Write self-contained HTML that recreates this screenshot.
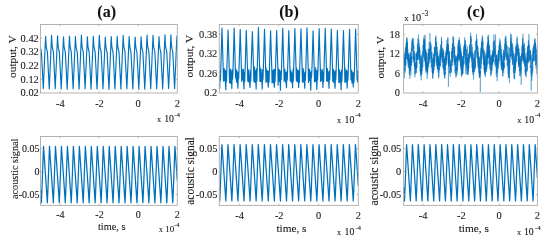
<!DOCTYPE html>
<html><head><meta charset="utf-8"><style>
html,body{margin:0;padding:0;background:#fff;}
body{width:550px;height:247px;overflow:hidden;}
svg{display:block;}
text{font-family:'Liberation Serif', 'Times New Roman', serif;fill:#1a1a1a;stroke:#1a1a1a;stroke-width:0.1px;}
.tl{font-size:10.4px;}
.ttl{font-size:16px;font-weight:bold;fill:#111;}
</style></head><body>
<svg xmlns="http://www.w3.org/2000/svg" width="550" height="247" viewBox="0 0 550 247">
<rect width="550" height="247" fill="#fff"/>
<defs><clipPath id="c0"><rect x="40.5" y="24.5" width="136.80" height="68.50"/></clipPath><clipPath id="c1"><rect x="219.3" y="24.5" width="139.00" height="68.50"/></clipPath><clipPath id="c2"><rect x="403.6" y="24.5" width="133.80" height="68.50"/></clipPath><clipPath id="c3"><rect x="40.5" y="136.5" width="136.80" height="68.90"/></clipPath><clipPath id="c4"><rect x="219.3" y="136.5" width="139.00" height="68.90"/></clipPath><clipPath id="c5"><rect x="403.6" y="136.5" width="133.80" height="68.90"/></clipPath></defs>
<g clip-path="url(#c0)"><polyline points="40.50,47.66 40.59,48.29 41.42,51.71 43.30,88.70 45.60,36.27 46.08,45.13 46.56,48.55 47.39,51.98 49.27,88.97 51.57,35.24 52.05,44.82 52.52,48.25 53.36,51.67 55.24,88.66 57.54,35.92 58.01,45.02 58.49,48.45 59.33,51.87 61.21,88.86 63.51,36.85 63.98,45.30 64.46,48.73 65.30,52.15 67.18,89.14 69.47,36.00 69.95,45.05 70.43,48.47 71.26,51.90 73.14,88.89 75.44,36.59 75.92,45.23 76.40,48.65 77.23,52.08 79.11,89.07 81.41,35.05 81.89,44.76 82.37,48.19 83.20,51.61 85.08,88.60 87.38,36.89 87.86,45.32 88.33,48.74 89.17,52.17 91.05,89.16 93.35,36.35 93.83,45.15 94.30,48.58 95.14,52.00 97.02,88.99 99.32,35.41 99.79,44.87 100.27,48.30 101.11,51.72 102.99,88.71 105.28,37.40 105.76,45.47 106.24,48.89 107.08,52.32 108.96,89.31 111.25,36.55 111.73,45.21 112.21,48.64 113.04,52.06 114.92,89.05 117.22,36.34 117.70,45.15 118.18,48.58 119.01,52.00 120.89,88.99 123.19,35.44 123.67,44.88 124.14,48.30 124.98,51.73 126.86,88.72 129.16,36.50 129.64,45.20 130.11,48.62 130.95,52.05 132.83,89.04 135.13,37.12 135.60,45.38 136.08,48.81 136.92,52.23 138.80,89.22 141.09,36.88 141.57,45.31 142.05,48.74 142.89,52.16 144.77,89.15 147.06,35.11 147.54,44.78 148.02,48.21 148.85,51.63 150.73,88.62 153.03,35.31 153.51,44.84 153.99,48.27 154.82,51.69 156.70,88.68 159.00,36.68 159.48,45.25 159.96,48.68 160.79,52.10 162.67,89.09 164.97,34.88 165.45,44.71 165.92,48.14 166.76,51.56 168.64,88.55 170.94,34.91 171.41,44.72 171.89,48.14 172.73,51.57 174.61,88.56 176.91,36.01 177.30,43.48" fill="none" stroke="#0072BD" stroke-width="1.15" stroke-linejoin="round" stroke-opacity="1.0"/></g>
<rect x="40.5" y="24.5" width="136.80" height="68.50" fill="none" stroke="#acacac" stroke-width="0.9"/>
<path d="M60.04,93.0v-1.6M60.04,24.5v1.6M99.13,93.0v-1.6M99.13,24.5v1.6M138.21,93.0v-1.6M138.21,24.5v1.6M40.5,79.30h1.6M177.3,79.30h-1.6M40.5,65.60h1.6M177.3,65.60h-1.6M40.5,51.90h1.6M177.3,51.90h-1.6M40.5,38.20h1.6M177.3,38.20h-1.6" stroke="#acacac" stroke-width="0.9" fill="none"/>
<text x="38.80" y="96.43" text-anchor="end" style="font-size:10.4px">0.02</text>
<text x="38.80" y="82.73" text-anchor="end" style="font-size:10.4px">0.12</text>
<text x="38.80" y="69.03" text-anchor="end" style="font-size:10.4px">0.22</text>
<text x="38.80" y="55.33" text-anchor="end" style="font-size:10.4px">0.32</text>
<text x="38.80" y="41.63" text-anchor="end" style="font-size:10.4px">0.42</text>
<text x="60.39" y="106.70" text-anchor="middle" style="font-size:10.4px">-4</text>
<text x="99.48" y="106.70" text-anchor="middle" style="font-size:10.4px">-2</text>
<text x="138.21" y="106.70" text-anchor="middle" style="font-size:10.4px">0</text>
<text x="177.30" y="106.70" text-anchor="middle" style="font-size:10.4px">2</text>
<text x="159.10" y="122.40" text-anchor="middle" style="font-size:8.23px">x</text><text x="169.10" y="122.40" text-anchor="middle" style="font-size:9.80px">10</text><text x="177.15" y="116.90" text-anchor="middle" style="font-size:7.06px">-4</text>
<g clip-path="url(#c1)"><polyline points="219.30,78.67 219.33,79.50 219.69,88.16 219.94,79.79 220.18,71.24 220.42,80.30 220.79,68.63 222.00,28.08 223.22,69.90 223.46,81.09 223.70,69.93 223.94,80.30 224.19,68.63 224.43,80.32 224.67,70.61 224.92,81.01 225.16,70.00 225.40,82.26 225.77,89.72 226.01,81.40 226.25,71.33 226.49,81.48 226.86,70.14 228.07,30.15 229.29,71.45 229.53,82.71 229.77,70.03 230.02,81.48 230.26,70.14 230.50,83.33 230.74,69.02 230.99,79.80 231.23,71.62 231.47,79.61 231.84,88.52 232.08,76.46 232.32,70.03 232.57,79.26 232.93,73.06 234.15,28.16 235.36,70.26 235.60,77.77 235.85,68.73 236.09,79.26 236.33,73.06 236.57,82.29 236.82,70.67 237.06,80.92 237.30,71.80 237.55,81.53 237.91,88.31 238.15,80.19 238.40,72.63 238.64,79.00 239.00,69.86 240.22,29.60 241.43,70.04 241.67,81.50 241.92,71.32 242.16,79.00 242.40,69.86 242.65,79.83 242.89,70.18 243.13,79.99 243.38,69.08 243.62,82.42 243.98,89.03 244.23,79.32 244.47,72.13 244.71,81.63 245.08,70.87 246.29,30.27 247.50,70.76 247.75,80.63 247.99,70.83 248.23,81.63 248.48,70.87 248.72,81.99 248.96,69.45 249.20,80.94 249.45,75.39 249.69,84.31 250.05,87.40 250.30,79.95 250.54,70.99 250.78,80.64 251.15,66.92 252.36,31.68 253.58,69.14 253.82,81.25 254.06,69.69 254.31,80.64 254.55,66.92 254.79,82.53 255.03,69.89 255.28,78.34 255.52,70.93 255.76,78.67 256.13,89.10 256.37,80.04 256.61,68.90 256.86,81.05 257.22,70.15 258.43,27.45 259.65,70.83 259.89,81.34 260.13,67.59 260.38,81.05 260.62,70.15 260.86,81.40 261.11,69.43 261.35,80.39 261.59,73.10 261.83,81.24 262.20,88.94 262.44,81.04 262.69,69.64 262.93,79.81 263.29,70.26 264.51,29.38 265.72,70.68 265.96,82.34 266.21,68.34 266.45,79.81 266.69,70.26 266.94,81.40 267.18,72.54 267.42,77.37 267.66,70.88 267.91,83.06 268.27,87.25 268.51,81.50 268.76,71.26 269.00,82.32 269.36,71.89 270.58,30.75 271.79,68.98 272.04,82.81 272.28,69.95 272.52,82.32 272.77,71.89 273.01,82.52 273.25,71.43 273.49,79.78 273.74,69.42 273.98,82.72 274.34,87.21 274.59,83.82 274.83,69.51 275.07,81.52 275.44,70.80 276.65,30.49 277.87,68.95 278.11,85.12 278.35,68.20 278.59,81.52 278.84,70.80 279.08,80.85 279.32,69.91 279.57,81.25 279.81,70.31 280.05,79.92 280.42,90.25 280.66,80.22 280.90,71.60 281.14,79.79 281.51,69.21 282.72,28.39 283.94,71.99 284.18,81.52 284.42,70.30 284.67,79.79 284.91,69.21 285.15,79.27 285.40,73.44 285.64,82.34 285.88,72.48 286.12,82.69 286.49,87.77 286.73,79.38 286.97,71.38 287.22,80.00 287.58,71.24 288.80,30.47 290.01,69.50 290.25,80.69 290.50,70.07 290.74,80.00 290.98,71.24 291.22,82.24 291.47,72.01 291.71,77.81 291.95,73.63 292.20,80.15 292.56,87.82 292.80,79.37 293.05,69.16 293.29,81.03 293.65,69.88 294.87,28.57 296.08,69.56 296.33,80.67 296.57,67.85 296.81,81.03 297.05,69.88 297.30,81.79 297.54,72.80 297.78,80.49 298.03,70.04 298.27,80.35 298.63,87.55 298.88,80.76 299.12,70.82 299.36,82.08 299.73,68.62 300.94,28.71 302.16,69.28 302.40,82.07 302.64,69.51 302.88,82.08 303.13,68.62 303.37,81.22 303.61,70.44 303.86,81.83 304.10,72.72 304.34,79.06 304.71,88.25 304.95,81.12 305.19,72.25 305.43,80.07 305.80,69.05 307.01,27.75 308.23,69.98 308.47,82.42 308.71,70.95 308.96,80.07 309.20,69.05 309.44,80.39 309.68,69.88 309.93,79.54 310.17,72.35 310.41,83.21 310.78,90.13 311.02,80.54 311.26,71.64 311.51,77.14 311.87,71.51 313.09,30.86 314.30,71.87 314.54,81.85 314.79,70.34 315.03,77.14 315.27,71.51 315.51,81.36 315.76,67.58 316.00,81.51 316.24,71.09 316.49,80.23 316.85,89.42 317.09,80.08 317.34,70.26 317.58,79.96 317.94,71.33 319.16,28.62 320.37,71.16 320.61,81.39 320.86,68.95 321.10,79.96 321.34,71.33 321.59,80.13 321.83,72.47 322.07,80.51 322.32,69.83 322.56,79.94 322.92,87.51 323.17,79.39 323.41,72.01 323.65,81.51 324.02,68.52 325.23,28.40 326.44,69.24 326.69,80.69 326.93,70.70 327.17,81.51 327.42,68.52 327.66,80.85 327.90,71.07 328.14,78.38 328.39,72.64 328.63,80.70 328.99,88.29 329.24,79.96 329.48,71.10 329.72,79.64 330.09,69.35 331.30,28.97 332.52,70.03 332.76,81.27 333.00,69.79 333.25,79.64 333.49,69.35 333.73,82.37 333.97,70.68 334.22,80.87 334.46,72.07 334.70,82.90 335.07,88.31 335.31,81.14 335.55,71.06 335.80,80.01 336.16,70.13 337.37,30.62 338.59,70.04 338.83,82.45 339.07,69.75 339.32,80.01 339.56,70.13 339.80,82.11 340.05,72.97 340.29,81.92 340.53,72.06 340.78,82.80 341.14,89.80 341.38,81.05 341.63,70.12 341.87,81.31 342.23,71.98 343.45,30.55 344.66,71.54 344.90,82.36 345.15,68.81 345.39,81.31 345.63,71.98 345.88,81.30 346.12,71.46 346.36,82.04 346.60,69.96 346.85,81.08 347.21,88.13 347.45,78.48 347.70,71.63 347.94,80.17 348.30,70.35 349.52,29.26 350.73,69.87 350.98,79.78 351.22,70.32 351.46,80.17 351.71,70.35 351.95,82.92 352.19,72.05 352.43,79.50 352.68,72.30 352.92,80.80 353.28,86.89 353.53,78.32 353.77,72.99 354.01,81.92 354.38,72.86 355.59,29.05 356.81,68.63 357.05,79.63 357.29,71.68 357.53,81.92 357.78,72.86 358.02,81.36 358.26,70.71 358.30,72.63" fill="none" stroke="#0072BD" stroke-width="1.15" stroke-linejoin="round" stroke-opacity="1.0"/></g>
<rect x="219.3" y="24.5" width="139.00" height="68.50" fill="none" stroke="#acacac" stroke-width="0.9"/>
<path d="M239.16,93.0v-1.6M239.16,24.5v1.6M278.87,93.0v-1.6M278.87,24.5v1.6M318.59,93.0v-1.6M318.59,24.5v1.6M219.3,73.43h1.6M358.3,73.43h-1.6M219.3,53.86h1.6M358.3,53.86h-1.6M219.3,34.29h1.6M358.3,34.29h-1.6" stroke="#acacac" stroke-width="0.9" fill="none"/>
<text x="217.30" y="96.43" text-anchor="end" style="font-size:10.4px">0.2</text>
<text x="217.30" y="76.86" text-anchor="end" style="font-size:10.4px">0.26</text>
<text x="217.30" y="57.29" text-anchor="end" style="font-size:10.4px">0.32</text>
<text x="217.30" y="37.72" text-anchor="end" style="font-size:10.4px">0.38</text>
<text x="239.51" y="106.80" text-anchor="middle" style="font-size:10.4px">-4</text>
<text x="279.22" y="106.80" text-anchor="middle" style="font-size:10.4px">-2</text>
<text x="318.59" y="106.80" text-anchor="middle" style="font-size:10.4px">0</text>
<text x="358.30" y="106.80" text-anchor="middle" style="font-size:10.4px">2</text>
<text x="339.10" y="122.60" text-anchor="middle" style="font-size:8.23px">x</text><text x="349.40" y="122.60" text-anchor="middle" style="font-size:9.80px">10</text><text x="357.95" y="117.10" text-anchor="middle" style="font-size:7.06px">-4</text>
<g clip-path="url(#c2)"><polyline points="403.60,60.59 403.67,61.07 403.74,68.49 403.81,74.01 403.89,78.90 403.96,70.61 404.03,69.47 404.10,77.45 404.17,76.82 404.24,53.95 404.31,61.55 404.38,70.81 404.46,65.55 404.53,52.34 404.60,53.59 404.67,54.29 404.74,64.35 404.81,61.44 404.88,56.58 404.96,70.49 405.03,58.32 405.10,64.44 405.17,72.65 405.24,68.21 405.31,53.22 405.38,48.18 405.46,62.73 405.53,46.49 405.60,46.49 405.67,65.99 405.74,49.25 405.81,65.29 405.88,52.95 405.95,53.96 406.03,58.90 406.10,55.49 406.17,43.32 406.24,53.87 406.31,56.84 406.38,42.97 406.45,47.88 406.53,38.69 406.60,50.97 406.67,48.03 406.74,36.96 406.81,44.80 406.88,45.77 406.95,53.08 407.03,59.24 407.10,38.63 407.17,59.49 407.24,42.62 407.31,54.60 407.38,41.45 407.45,54.96 407.52,42.90 407.60,52.38 407.67,60.35 407.74,49.13 407.81,51.25 407.88,51.57 407.95,57.29 408.02,63.53 408.10,54.23 408.17,67.32 408.24,54.13 408.31,56.01 408.38,62.64 408.45,53.28 408.52,68.03 408.60,63.97 408.67,54.95 408.74,65.30 408.81,58.03 408.88,60.95 408.95,53.79 409.02,53.15 409.09,59.99 409.17,58.54 409.24,74.50 409.31,61.89 409.38,59.28 409.45,70.31 409.52,67.29 409.59,69.57 409.67,57.97 409.74,72.48 409.81,69.93 409.88,78.81 409.95,68.41 410.02,62.90 410.09,55.22 410.17,54.93 410.24,68.39 410.31,52.30 410.38,70.57 410.45,55.09 410.52,70.18 410.59,63.81 410.66,71.05 410.74,52.08 410.81,75.64 410.88,67.85 410.95,58.20 411.02,63.97 411.09,57.93 411.16,55.94 411.24,65.88 411.31,47.53 411.38,60.73 411.45,56.23 411.52,64.83 411.59,65.57 411.66,60.50 411.74,56.51 411.81,42.18 411.88,42.53 411.95,51.51 412.02,51.16 412.09,45.21 412.16,39.75 412.23,51.04 412.31,39.36 412.38,47.67 412.45,42.13 412.52,37.88 412.59,44.39 412.66,40.90 412.73,41.71 412.81,58.91 412.88,59.09 412.95,57.46 413.02,56.91 413.09,58.11 413.16,62.33 413.23,58.93 413.30,50.47 413.38,44.32 413.45,57.47 413.52,57.62 413.59,56.99 413.66,38.40 413.73,49.44 413.80,46.33 413.88,60.15 413.95,52.93 414.02,62.05 414.09,51.28 414.16,65.76 414.23,51.27 414.30,60.41 414.38,55.79 414.45,60.81 414.52,66.50 414.59,62.87 414.66,73.84 414.73,74.57 414.80,63.68 414.87,65.47 414.95,57.66 415.02,77.30 415.09,65.25 415.16,67.35 415.23,65.38 415.30,62.84 415.37,68.20 415.45,67.56 415.52,68.69 415.59,65.24 415.66,73.31 415.73,65.61 415.80,62.25 415.87,73.00 415.95,53.68 416.02,58.86 416.09,53.40 416.16,68.38 416.23,64.32 416.30,68.05 416.37,62.62 416.44,72.70 416.52,66.74 416.59,51.76 416.66,67.59 416.73,54.69 416.80,64.48 416.87,68.25 416.94,64.72 417.02,52.77 417.09,56.36 417.16,54.69 417.23,56.40 417.30,60.05 417.37,54.47 417.44,43.72 417.52,60.11 417.59,47.08 417.66,57.84 417.73,58.65 417.80,54.77 417.87,59.24 417.94,38.49 418.01,50.92 418.09,54.41 418.16,57.58 418.23,55.20 418.30,50.62 418.37,45.82 418.44,42.46 418.51,34.50 418.59,37.59 418.66,53.77 418.73,46.06 418.80,39.74 418.87,59.96 418.94,43.11 419.01,54.42 419.09,45.91 419.16,57.24 419.23,50.67 419.30,54.01 419.37,64.02 419.44,49.17 419.51,48.24 419.58,56.78 419.66,59.56 419.73,46.97 419.80,60.98 419.87,49.66 419.94,61.04 420.01,62.65 420.08,63.48 420.16,71.11 420.23,66.55 420.30,68.23 420.37,72.70 420.44,62.00 420.51,64.88 420.58,75.23 420.66,72.71 420.73,55.34 420.80,74.33 420.87,69.25 420.94,56.24 421.01,76.45 421.08,70.04 421.15,61.40 421.23,80.32 421.30,78.95 421.37,58.16 421.44,63.38 421.51,72.77 421.58,67.07 421.65,71.95 421.73,56.29 421.80,54.39 421.87,74.48 421.94,63.29 422.01,70.72 422.08,65.00 422.15,56.54 422.22,56.64 422.30,68.39 422.37,64.49 422.44,61.76 422.51,62.13 422.58,54.63 422.65,51.58 422.72,61.67 422.80,58.64 422.87,66.87 422.94,59.28 423.01,45.11 423.08,55.00 423.15,53.16 423.22,51.46 423.30,51.83 423.37,45.71 423.44,57.95 423.51,56.06 423.58,42.09 423.65,50.22 423.72,38.46 423.79,56.77 423.87,40.69 423.94,47.01 424.01,46.03 424.08,35.51 424.15,52.17 424.22,43.96 424.29,51.14 424.37,49.91 424.44,39.73 424.51,50.53 424.58,42.42 424.65,61.49 424.72,39.29 424.79,40.98 424.87,48.03 424.94,59.89 425.01,49.63 425.08,61.14 425.15,34.74 425.22,65.89 425.29,65.61 425.36,64.10 425.44,64.09 425.51,49.22 425.58,63.73 425.65,50.62 425.72,70.41 425.79,69.75 425.86,70.23 425.94,50.33 426.01,53.56 426.08,72.94 426.15,51.98 426.22,69.09 426.29,68.75 426.36,61.78 426.44,71.25 426.51,53.71 426.58,68.56 426.65,64.30 426.72,64.81 426.79,72.19 426.86,62.11 426.93,56.60 427.01,66.47 427.08,78.89 427.15,61.33 427.22,64.09 427.29,67.70 427.36,63.29 427.43,71.97 427.51,70.42 427.58,64.90 427.65,74.85 427.72,62.10 427.79,71.07 427.86,68.84 427.93,53.12 428.01,59.90 428.08,67.43 428.15,56.19 428.22,48.65 428.29,50.43 428.36,52.20 428.43,62.60 428.50,56.16 428.58,55.57 428.65,66.68 428.72,51.94 428.79,55.42 428.86,54.85 428.93,49.24 429.00,64.19 429.08,60.46 429.15,41.71 429.22,57.32 429.29,57.81 429.36,61.57 429.43,55.16 429.50,48.37 429.58,59.66 429.65,52.83 429.72,52.64 429.79,54.08 429.86,38.14 429.93,33.18 430.00,34.00 430.07,46.11 430.15,55.87 430.22,50.19 430.29,47.02 430.36,51.37 430.43,44.09 430.50,44.77 430.57,42.04 430.65,52.63 430.72,58.60 430.79,43.35 430.86,44.53 430.93,62.87 431.00,61.44 431.07,51.45 431.14,48.22 431.22,45.50 431.29,68.10 431.36,64.71 431.43,59.77 431.50,57.31 431.57,52.52 431.64,58.27 431.72,59.72 431.79,66.83 431.86,57.73 431.93,59.87 432.00,51.89 432.07,70.19 432.14,72.27 432.22,67.45 432.29,68.65 432.36,66.21 432.43,73.37 432.50,61.35 432.57,59.18 432.64,78.90 432.71,58.22 432.79,78.02 432.86,73.50 432.93,69.19 433.00,70.11 433.07,74.46 433.14,61.84 433.21,58.71 433.29,72.52 433.36,73.45 433.43,64.58 433.50,72.73 433.57,53.60 433.64,55.12 433.71,54.96 433.79,64.35 433.86,54.99 433.93,63.72 434.00,61.61 434.07,69.32 434.14,70.39 434.21,54.97 434.28,65.63 434.36,47.15 434.43,55.80 434.50,54.98 434.57,46.96 434.64,60.43 434.71,66.61 434.78,61.16 434.86,55.01 434.93,61.65 435.00,58.07 435.07,46.79 435.14,54.71 435.21,55.00 435.28,56.59 435.36,48.63 435.43,36.78 435.50,55.23 435.57,38.43 435.64,39.08 435.71,42.20 435.78,42.61 435.85,43.71 435.93,54.47 436.00,44.48 436.07,35.58 436.14,42.64 436.21,49.77 436.28,51.28 436.35,42.22 436.43,63.19 436.50,59.20 436.57,41.95 436.64,49.64 436.71,46.10 436.78,53.55 436.85,65.67 436.93,54.60 437.00,52.95 437.07,66.21 437.14,57.55 437.21,47.25 437.28,68.48 437.35,69.41 437.42,68.62 437.50,55.57 437.57,51.17 437.64,69.02 437.71,53.40 437.78,68.58 437.85,61.70 437.92,56.95 438.00,72.68 438.07,64.78 438.14,56.19 438.21,68.75 438.28,58.91 438.35,67.52 438.42,56.59 438.50,69.88 438.57,60.52 438.64,78.61 438.71,72.96 438.78,76.95 438.85,70.34 438.92,69.75 438.99,73.07 439.07,68.33 439.14,61.62 439.21,63.51 439.28,70.81 439.35,59.27 439.42,58.78 439.49,64.97 439.57,63.53 439.64,69.71 439.71,53.62 439.78,64.30 439.85,65.24 439.92,49.76 439.99,63.85 440.06,65.83 440.14,60.94 440.21,57.26 440.28,54.40 440.35,58.92 440.42,51.66 440.49,66.64 440.56,44.86 440.64,55.24 440.71,54.99 440.78,54.49 440.85,57.95 440.92,44.74 440.99,52.69 441.06,60.37 441.14,53.43 441.21,49.31 441.28,51.29 441.35,56.37 441.42,36.94 441.49,53.31 441.56,38.78 441.63,45.42 441.71,44.71 441.78,41.40 441.85,57.87 441.92,47.73 441.99,49.40 442.06,51.07 442.13,62.08 442.21,62.77 442.28,52.08 442.35,53.43 442.42,56.82 442.49,62.50 442.56,57.24 442.63,50.53 442.71,47.63 442.78,49.48 442.85,67.94 442.92,60.58 442.99,57.59 443.06,50.51 443.13,56.92 443.20,51.90 443.28,55.09 443.35,70.13 443.42,49.34 443.49,59.84 443.56,59.30 443.63,67.94 443.70,53.37 443.78,51.68 443.85,67.63 443.92,64.74 443.99,75.29 444.06,59.40 444.13,62.77 444.20,72.94 444.28,59.49 444.35,66.68 444.42,58.26 444.49,61.37 444.56,78.32 444.63,74.56 444.70,59.66 444.77,78.29 444.85,75.42 444.92,56.34 444.99,58.35 445.06,70.84 445.13,68.33 445.20,74.84 445.27,72.21 445.35,74.37 445.42,60.30 445.49,59.19 445.56,69.60 445.63,52.86 445.70,60.44 445.77,57.26 445.85,55.23 445.92,65.41 445.99,50.81 446.06,59.49 446.13,56.89 446.20,65.07 446.27,61.50 446.34,56.24 446.42,49.37 446.49,55.09 446.56,52.12 446.63,46.96 446.70,54.73 446.77,63.26 446.84,49.90 446.92,40.03 446.99,60.35 447.06,49.41 447.13,43.95 447.20,46.87 447.27,54.97 447.34,44.37 447.42,53.60 447.49,54.15 447.56,48.82 447.63,53.56 447.70,46.84 447.77,37.46 447.84,55.55 447.91,38.34 447.99,54.32 448.06,43.65 448.13,51.55 448.20,46.04 448.27,44.60 448.34,45.70 448.41,86.73 448.49,45.64 448.56,64.31 448.63,50.42 448.70,67.15 448.77,61.72 448.84,66.22 448.91,55.27 448.98,63.03 449.06,57.67 449.13,66.39 449.20,62.70 449.27,51.45 449.34,59.14 449.41,62.29 449.48,57.22 449.56,51.51 449.63,67.53 449.70,73.34 449.77,70.81 449.84,73.34 449.91,68.05 449.98,60.69 450.06,60.67 450.13,76.68 450.20,75.96 450.27,71.86 450.34,61.04 450.41,69.08 450.48,67.23 450.55,72.51 450.63,65.88 450.70,64.03 450.77,69.80 450.84,63.02 450.91,58.88 450.98,67.73 451.05,64.78 451.13,71.88 451.20,68.30 451.27,72.89 451.34,71.97 451.41,70.77 451.48,51.11 451.55,54.44 451.63,57.34 451.70,51.80 451.77,65.86 451.84,61.18 451.91,55.23 451.98,48.26 452.05,55.10 452.12,64.30 452.20,65.65 452.27,65.32 452.34,47.84 452.41,44.04 452.48,61.08 452.55,44.92 452.62,62.41 452.70,43.12 452.77,45.28 452.84,49.70 452.91,48.65 452.98,53.74 453.05,36.08 453.12,50.59 453.20,49.80 453.27,37.15 453.34,42.68 453.41,45.05 453.48,44.74 453.55,56.51 453.62,57.50 453.69,38.03 453.77,45.48 453.84,48.51 453.91,50.34 453.98,58.55 454.05,60.93 454.12,51.44 454.19,65.48 454.27,65.61 454.34,58.75 454.41,53.61 454.48,46.08 454.55,57.83 454.62,61.83 454.69,47.14 454.77,63.13 454.84,59.36 454.91,60.00 454.98,70.73 455.05,69.83 455.12,72.67 455.19,54.76 455.26,65.04 455.34,58.52 455.41,64.58 455.48,63.98 455.55,55.87 455.62,67.45 455.69,74.87 455.76,62.10 455.84,77.67 455.91,66.80 455.98,70.80 456.05,69.99 456.12,63.46 456.19,61.05 456.26,57.60 456.34,61.34 456.41,59.85 456.48,56.55 456.55,68.96 456.62,69.39 456.69,76.25 456.76,65.70 456.83,74.48 456.91,70.22 456.98,65.01 457.05,64.49 457.12,55.64 457.19,62.16 457.26,55.91 457.33,71.42 457.41,54.47 457.48,52.97 457.55,70.01 457.62,61.51 457.69,54.26 457.76,65.42 457.83,49.17 457.90,44.71 457.98,48.60 458.05,51.90 458.12,47.50 458.19,43.31 458.26,42.37 458.33,56.44 458.40,48.50 458.48,60.94 458.55,40.82 458.62,60.00 458.69,53.65 458.76,45.98 458.83,53.24 458.90,47.63 458.98,48.32 459.05,39.94 459.12,43.52 459.19,37.16 459.26,43.02 459.33,41.63 459.40,59.14 459.47,44.61 459.55,40.07 459.62,59.21 459.69,44.81 459.76,45.32 459.83,62.34 459.90,50.41 459.97,58.09 460.05,57.27 460.12,43.16 460.19,53.65 460.26,56.40 460.33,49.43 460.40,59.52 460.47,66.21 460.55,46.78 460.62,66.56 460.69,49.74 460.76,48.51 460.83,60.99 460.90,69.73 460.97,62.29 461.04,60.89 461.12,55.73 461.19,51.29 461.26,69.55 461.33,75.05 461.40,53.35 461.47,76.90 461.54,54.89 461.62,57.08 461.69,57.47 461.76,69.70 461.83,74.99 461.90,66.21 461.97,70.64 462.04,63.84 462.12,75.45 462.19,68.37 462.26,57.42 462.33,64.48 462.40,55.96 462.47,59.59 462.54,73.50 462.61,60.96 462.69,71.23 462.76,73.33 462.83,60.29 462.90,73.71 462.97,72.13 463.04,63.64 463.11,68.01 463.19,56.10 463.26,64.63 463.33,64.93 463.40,57.11 463.47,57.19 463.54,49.10 463.61,49.14 463.69,45.93 463.76,64.70 463.83,65.44 463.90,48.56 463.97,56.26 464.04,63.86 464.11,52.11 464.18,56.49 464.26,58.44 464.33,47.24 464.40,44.65 464.47,54.83 464.54,44.34 464.61,53.71 464.68,37.26 464.76,47.74 464.83,45.03 464.90,51.24 464.97,45.20 465.04,50.56 465.11,39.62 465.18,55.81 465.26,47.41 465.33,51.41 465.40,40.43 465.47,47.45 465.54,50.23 465.61,60.55 465.68,62.10 465.75,74.19 465.83,44.03 465.90,64.27 465.97,56.84 466.04,58.61 466.11,67.32 466.18,53.73 466.25,58.07 466.33,58.17 466.40,50.55 466.47,55.96 466.54,65.51 466.61,49.13 466.68,50.54 466.75,56.53 466.82,70.47 466.90,59.02 466.97,74.41 467.04,68.27 467.11,65.32 467.18,65.26 467.25,58.12 467.32,64.07 467.40,46.29 467.47,67.73 467.54,61.67 467.61,75.00 467.68,58.85 467.75,60.77 467.82,59.39 467.90,57.93 467.97,61.33 468.04,72.35 468.11,57.14 468.18,59.02 468.25,66.43 468.32,74.67 468.39,53.53 468.47,70.86 468.54,71.26 468.61,61.76 468.68,54.03 468.75,67.33 468.82,68.22 468.89,54.14 468.97,58.72 469.04,58.14 469.11,56.94 469.18,51.38 469.25,51.50 469.32,63.05 469.39,60.20 469.47,44.73 469.54,47.94 469.61,54.38 469.68,59.00 469.75,44.83 469.82,58.78 469.89,54.00 469.96,50.39 470.04,45.75 470.11,46.62 470.18,46.31 470.25,56.61 470.32,52.57 470.39,41.95 470.46,45.04 470.54,36.21 470.61,55.02 470.68,32.61 470.75,43.97 470.82,49.58 470.89,55.13 470.96,56.83 471.04,36.12 471.11,41.89 471.18,38.34 471.25,42.38 471.32,53.02 471.39,59.17 471.46,51.62 471.53,59.16 471.61,61.59 471.68,52.84 471.75,53.04 471.82,43.87 471.89,48.65 471.96,67.65 472.03,64.60 472.11,56.06 472.18,53.12 472.25,47.06 472.32,57.92 472.39,60.37 472.46,71.69 472.53,62.26 472.61,52.77 472.68,72.21 472.75,61.80 472.82,52.36 472.89,52.62 472.96,75.39 473.03,69.12 473.10,72.31 473.18,54.38 473.25,59.23 473.32,72.23 473.39,70.01 473.46,63.78 473.53,79.59 473.60,76.82 473.68,62.05 473.75,72.85 473.82,73.91 473.89,57.55 473.96,61.46 474.03,57.69 474.10,58.89 474.18,64.67 474.25,71.84 474.32,59.30 474.39,62.21 474.46,57.40 474.53,58.14 474.60,54.89 474.67,71.58 474.75,68.46 474.82,51.05 474.89,55.14 474.96,50.31 475.03,68.81 475.10,57.33 475.17,68.74 475.25,64.78 475.32,66.82 475.39,62.93 475.46,60.80 475.53,64.58 475.60,50.48 475.67,51.44 475.74,48.54 475.82,41.13 475.89,56.91 475.96,57.26 476.03,54.86 476.10,41.94 476.17,44.74 476.24,41.52 476.32,52.64 476.39,54.08 476.46,45.16 476.53,34.07 476.60,49.89 476.67,39.04 476.74,41.41 476.82,50.26 476.89,43.39 476.96,39.16 477.03,56.78 477.10,56.58 477.17,54.22 477.24,59.28 477.31,55.06 477.39,47.83 477.46,45.46 477.53,50.52 477.60,53.95 477.67,45.60 477.74,63.38 477.81,51.96 477.89,59.96 477.96,47.44 478.03,65.40 478.10,64.54 478.17,68.38 478.24,60.94 478.31,56.01 478.39,65.87 478.46,52.21 478.53,55.02 478.60,68.01 478.67,60.75 478.74,60.06 478.81,72.82 478.88,61.34 478.96,62.43 479.03,57.22 479.10,71.24 479.17,75.54 479.24,66.55 479.31,59.72 479.38,77.60 479.46,76.03 479.53,77.87 479.60,56.60 479.67,61.38 479.74,76.51 479.81,58.22 479.88,67.33 479.96,76.47 480.03,75.05 480.10,70.11 480.17,74.48 480.24,70.88 480.31,92.04 480.38,70.43 480.45,70.87 480.53,62.66 480.60,52.69 480.67,53.14 480.74,58.55 480.81,68.98 480.88,47.63 480.95,67.79 481.03,68.50 481.10,50.66 481.17,52.99 481.24,49.34 481.31,60.14 481.38,45.07 481.45,45.02 481.53,63.91 481.60,41.92 481.67,45.78 481.74,43.25 481.81,51.31 481.88,42.93 481.95,39.23 482.02,38.61 482.10,52.22 482.17,53.74 482.24,41.57 482.31,45.40 482.38,35.27 482.45,45.80 482.52,53.63 482.60,49.52 482.67,36.68 482.74,43.84 482.81,57.26 482.88,57.75 482.95,53.99 483.02,41.53 483.10,52.03 483.17,58.38 483.24,60.30 483.31,60.00 483.38,53.78 483.45,61.91 483.52,64.98 483.59,48.70 483.67,53.18 483.74,55.13 483.81,63.67 483.88,60.35 483.95,50.11 484.02,65.16 484.09,61.71 484.17,70.12 484.24,63.82 484.31,71.52 484.38,55.97 484.45,51.17 484.52,73.39 484.59,67.25 484.66,53.90 484.74,73.97 484.81,58.33 484.88,75.32 484.95,67.63 485.02,60.62 485.09,61.03 485.16,61.24 485.24,73.06 485.31,67.98 485.38,77.07 485.45,56.21 485.52,61.77 485.59,69.22 485.66,66.30 485.74,63.65 485.81,68.38 485.88,68.49 485.95,54.39 486.02,71.41 486.09,52.28 486.16,61.16 486.23,62.68 486.31,61.90 486.38,72.06 486.45,64.21 486.52,60.48 486.59,69.65 486.66,69.91 486.73,69.50 486.81,54.57 486.88,68.38 486.95,45.62 487.02,52.76 487.09,50.03 487.16,65.37 487.23,53.87 487.31,60.39 487.38,43.09 487.45,55.80 487.52,58.93 487.59,52.95 487.66,54.55 487.73,57.79 487.80,41.91 487.88,54.15 487.95,36.96 488.02,64.19 488.09,36.14 488.16,38.31 488.23,35.08 488.30,34.35 488.38,57.53 488.45,52.68 488.52,38.44 488.59,47.86 488.66,39.98 488.73,51.73 488.80,55.28 488.88,44.30 488.95,58.23 489.02,55.39 489.09,46.10 489.16,56.89 489.23,51.21 489.30,63.59 489.37,62.78 489.45,45.23 489.52,64.27 489.59,65.49 489.66,69.53 489.73,68.65 489.80,61.62 489.87,57.09 489.95,51.40 490.02,49.46 490.09,64.87 490.16,62.09 490.23,64.85 490.30,63.98 490.37,55.33 490.45,66.24 490.52,59.04 490.59,56.94 490.66,68.01 490.73,70.16 490.80,76.57 490.87,63.43 490.94,61.04 491.02,65.46 491.09,74.42 491.16,63.89 491.23,74.60 491.30,60.42 491.37,56.64 491.44,70.56 491.52,63.47 491.59,66.43 491.66,68.75 491.73,55.07 491.80,68.05 491.87,56.29 491.94,56.67 492.02,71.19 492.09,53.80 492.16,63.90 492.23,63.51 492.30,61.15 492.37,61.67 492.44,60.61 492.51,52.24 492.59,62.11 492.66,65.13 492.73,50.55 492.80,57.68 492.87,54.57 492.94,62.60 493.01,50.26 493.09,51.15 493.16,50.07 493.23,42.59 493.30,62.16 493.37,51.15 493.44,61.59 493.51,53.09 493.58,45.65 493.66,40.69 493.73,52.33 493.80,36.83 493.87,35.29 493.94,34.33 494.01,45.04 494.08,41.60 494.16,46.06 494.23,56.61 494.30,52.73 494.37,40.45 494.44,56.83 494.51,51.59 494.58,47.16 494.66,53.86 494.73,50.39 494.80,51.37 494.87,62.17 494.94,64.83 495.01,54.01 495.08,51.95 495.15,54.31 495.23,45.05 495.30,64.91 495.37,67.02 495.44,49.98 495.51,35.19 495.58,34.50 495.65,50.28 495.73,62.46 495.80,59.02 495.87,57.93 495.94,60.04 496.01,64.13 496.08,55.12 496.15,56.98 496.23,74.91 496.30,54.71 496.37,66.86 496.44,60.13 496.51,55.06 496.58,63.11 496.65,72.74 496.72,65.25 496.80,56.79 496.87,76.32 496.94,77.13 497.01,62.16 497.08,69.52 497.15,81.08 497.22,70.13 497.30,63.64 497.37,62.70 497.44,58.23 497.51,69.19 497.58,61.62 497.65,63.29 497.72,72.43 497.80,53.89 497.87,59.25 497.94,61.66 498.01,60.30 498.08,59.62 498.15,61.73 498.22,58.77 498.29,50.89 498.37,60.86 498.44,51.35 498.51,68.33 498.58,60.59 498.65,50.05 498.72,51.60 498.79,64.16 498.87,57.46 498.94,54.94 499.01,45.64 499.08,61.65 499.15,60.08 499.22,56.03 499.29,52.73 499.37,44.71 499.44,51.08 499.51,42.50 499.58,53.04 499.65,48.96 499.72,38.33 499.79,45.35 499.86,43.79 499.94,46.74 500.01,55.45 500.08,46.70 500.15,58.51 500.22,56.83 500.29,44.26 500.36,45.01 500.44,40.45 500.51,46.19 500.58,54.98 500.65,60.06 500.72,60.54 500.79,60.01 500.86,45.09 500.94,57.01 501.01,55.28 501.08,56.06 501.15,66.01 501.22,55.08 501.29,69.72 501.36,55.42 501.43,65.51 501.51,48.95 501.58,57.24 501.65,60.93 501.72,70.37 501.79,67.25 501.86,67.67 501.93,52.91 502.01,63.21 502.08,63.88 502.15,65.33 502.22,68.68 502.29,61.84 502.36,67.11 502.43,65.45 502.50,62.46 502.58,64.58 502.65,76.13 502.72,59.48 502.79,76.47 502.86,66.68 502.93,57.83 503.00,55.72 503.08,69.92 503.15,64.70 503.22,61.94 503.29,71.13 503.36,66.35 503.43,61.36 503.50,70.09 503.58,56.66 503.65,50.47 503.72,73.23 503.79,49.37 503.86,60.71 503.93,53.08 504.00,59.49 504.07,59.61 504.15,68.17 504.22,63.13 504.29,68.01 504.36,55.67 504.43,52.33 504.50,57.83 504.57,45.63 504.65,43.77 504.72,59.91 504.79,57.35 504.86,59.84 504.93,58.90 505.00,47.49 505.07,44.83 505.15,39.07 505.22,48.69 505.29,50.40 505.36,36.71 505.43,56.80 505.50,44.73 505.57,49.07 505.64,38.02 505.72,48.50 505.79,54.09 505.86,35.72 505.93,36.49 506.00,38.16 506.07,57.16 506.14,54.37 506.22,53.99 506.29,53.93 506.36,51.69 506.43,45.31 506.50,41.70 506.57,47.94 506.64,48.26 506.72,55.75 506.79,60.33 506.86,45.05 506.93,59.17 507.00,46.33 507.07,52.04 507.14,62.33 507.21,65.80 507.29,54.29 507.36,56.03 507.43,58.74 507.50,60.11 507.57,66.90 507.64,52.45 507.71,62.52 507.79,53.51 507.86,56.67 507.93,58.58 508.00,72.78 508.07,73.92 508.14,69.16 508.21,55.97 508.29,75.82 508.36,78.03 508.43,75.28 508.50,74.58 508.57,66.90 508.64,77.35 508.71,46.96 508.78,65.45 508.86,64.52 508.93,58.67 509.00,69.52 509.07,54.68 509.14,65.58 509.21,60.39 509.28,78.13 509.36,65.95 509.43,82.78 509.50,72.64 509.57,60.55 509.64,60.23 509.71,69.90 509.78,58.05 509.86,47.83 509.93,54.10 510.00,62.27 510.07,55.03 510.14,50.38 510.21,50.46 510.28,50.02 510.35,48.15 510.43,57.01 510.50,48.38 510.57,33.61 510.64,56.60 510.71,53.88 510.78,40.86 510.85,46.04 510.93,50.78 511.00,38.29 511.07,45.20 511.14,46.18 511.21,43.24 511.28,47.47 511.35,55.63 511.42,45.48 511.50,49.79 511.57,34.46 511.64,40.46 511.71,55.72 511.78,55.24 511.85,59.48 511.92,42.80 512.00,44.96 512.07,55.38 512.14,59.72 512.21,58.14 512.28,50.89 512.35,62.22 512.42,65.10 512.50,59.72 512.57,43.55 512.64,64.32 512.71,52.38 512.78,46.72 512.85,48.38 512.92,54.61 512.99,59.35 513.07,53.57 513.14,50.89 513.21,62.96 513.28,59.43 513.35,60.53 513.42,73.35 513.49,53.80 513.57,54.88 513.64,54.73 513.71,71.84 513.78,70.80 513.85,65.26 513.92,70.45 513.99,74.29 514.07,78.40 514.14,75.09 514.21,75.69 514.28,68.40 514.35,59.78 514.42,79.23 514.49,78.95 514.56,56.56 514.64,78.66 514.71,73.74 514.78,60.27 514.85,63.27 514.92,66.91 514.99,53.70 515.06,73.01 515.14,61.32 515.21,54.75 515.28,52.91 515.35,71.15 515.42,59.42 515.49,66.64 515.56,63.30 515.64,68.46 515.71,68.58 515.78,47.05 515.85,61.32 515.92,57.98 515.99,52.40 516.06,46.67 516.13,47.77 516.21,52.25 516.28,43.90 516.35,59.43 516.42,45.86 516.49,62.65 516.56,46.82 516.63,45.74 516.71,46.39 516.78,46.59 516.85,38.09 516.92,55.61 516.99,47.41 517.06,50.97 517.13,46.08 517.21,38.28 517.28,36.49 517.35,45.40 517.42,54.91 517.49,53.55 517.56,44.07 517.63,44.42 517.70,42.28 517.78,52.83 517.85,48.76 517.92,56.59 517.99,46.40 518.06,61.64 518.13,55.50 518.20,44.78 518.28,50.15 518.35,54.67 518.42,55.77 518.49,65.14 518.56,67.14 518.63,48.20 518.70,64.22 518.78,56.11 518.85,65.50 518.92,48.74 518.99,58.47 519.06,65.77 519.13,58.07 519.20,65.18 519.27,69.13 519.35,71.33 519.42,67.48 519.49,52.50 519.56,64.99 519.63,66.85 519.70,66.66 519.77,75.86 519.85,57.69 519.92,63.78 519.99,70.82 520.06,70.24 520.13,60.19 520.20,66.74 520.27,72.60 520.34,76.39 520.42,56.10 520.49,65.58 520.56,61.96 520.63,67.86 520.70,68.40 520.77,71.06 520.84,64.19 520.92,55.70 520.99,73.85 521.06,61.33 521.13,60.51 521.20,84.89 521.27,71.49 521.34,59.14 521.42,61.40 521.49,53.42 521.56,56.77 521.63,60.81 521.70,54.83 521.77,54.13 521.84,61.37 521.91,62.00 521.99,46.43 522.06,53.89 522.13,59.35 522.20,44.75 522.27,56.10 522.34,60.43 522.41,58.75 522.49,38.15 522.56,45.17 522.63,55.11 522.70,38.88 522.77,56.75 522.84,48.87 522.91,41.01 522.99,33.81 523.06,36.37 523.13,47.04 523.20,48.98 523.27,56.86 523.34,54.24 523.41,56.72 523.48,44.75 523.56,60.04 523.63,61.17 523.70,45.13 523.77,62.54 523.84,50.38 523.91,63.73 523.98,55.04 524.06,42.48 524.13,59.28 524.20,43.80 524.27,53.47 524.34,60.96 524.41,62.06 524.48,56.01 524.56,61.39 524.63,66.51 524.70,49.49 524.77,48.00 524.84,62.98 524.91,65.83 524.98,56.41 525.05,71.93 525.13,70.77 525.20,73.63 525.27,60.56 525.34,53.75 525.41,63.63 525.48,75.85 525.55,65.02 525.63,58.97 525.70,74.89 525.77,70.43 525.84,69.22 525.91,71.13 525.98,57.53 526.05,63.94 526.13,65.93 526.20,77.40 526.27,72.45 526.34,69.56 526.41,65.94 526.48,65.28 526.55,65.84 526.62,59.84 526.70,64.95 526.77,65.29 526.84,72.00 526.91,52.42 526.98,59.55 527.05,70.67 527.12,66.08 527.20,57.52 527.27,56.98 527.34,70.36 527.41,48.66 527.48,62.63 527.55,48.11 527.62,48.63 527.70,46.30 527.77,63.12 527.84,52.66 527.91,61.32 527.98,49.51 528.05,45.97 528.12,54.73 528.19,57.82 528.27,63.23 528.34,40.71 528.41,61.40 528.48,45.38 528.55,40.13 528.62,51.05 528.69,53.94 528.77,48.94 528.84,40.36 528.91,34.12 528.98,48.72 529.05,45.82 529.12,46.53 529.19,54.62 529.26,57.58 529.34,44.27 529.41,54.28 529.48,61.53 529.55,55.24 529.62,59.68 529.69,58.57 529.76,60.28 529.84,50.64 529.91,58.09 529.98,58.93 530.05,50.13 530.12,57.61 530.19,53.30 530.26,51.04 530.34,68.34 530.41,51.26 530.48,53.28 530.55,50.19 530.62,59.90 530.69,56.82 530.76,67.82 530.83,66.40 530.91,72.03 530.98,73.90 531.05,69.69 531.12,69.51 531.19,90.47 531.26,76.36 531.33,76.83 531.41,54.75 531.48,60.96 531.55,71.59 531.62,75.26 531.69,74.32 531.76,73.63 531.83,80.72 531.91,65.90 531.98,71.94 532.05,76.25 532.12,58.37 532.19,59.38 532.26,64.60 532.33,58.88 532.40,64.12 532.48,71.10 532.55,52.44 532.62,62.12 532.69,72.90 532.76,70.72 532.83,64.45 532.90,54.60 532.98,51.72 533.05,48.21 533.12,55.43 533.19,49.81 533.26,54.45 533.33,47.61 533.40,45.93 533.48,57.13 533.55,61.12 533.62,56.23 533.69,55.79 533.76,60.89 533.83,45.24 533.90,44.14 533.97,60.01 534.05,55.13 534.12,51.70 534.19,61.04 534.26,61.44 534.33,46.96 534.40,53.00 534.47,40.71 534.55,40.66 534.62,48.91 534.69,43.38 534.76,44.59 534.83,38.37 534.90,49.69 534.97,38.80 535.05,43.07 535.12,49.08 535.19,53.63 535.26,48.38 535.33,42.89 535.40,61.15 535.47,42.67 535.54,46.78 535.62,59.89 535.69,65.44 535.76,53.69 535.83,65.41 535.90,45.39 535.97,57.34 536.04,59.54 536.12,68.88 536.19,57.67 536.26,53.97 536.33,57.46 536.40,48.88 536.47,54.30 536.54,56.09 536.62,62.42 536.69,61.92 536.76,60.95 536.83,51.85 536.90,55.05 536.97,72.72 537.04,73.16 537.11,59.51 537.19,70.40 537.26,69.34 537.33,74.37 537.40,77.86" fill="none" stroke="#0072BD" stroke-width="0.42" stroke-linejoin="round" stroke-opacity="1.0"/></g>
<rect x="403.6" y="24.5" width="133.80" height="68.50" fill="none" stroke="#acacac" stroke-width="0.9"/>
<path d="M422.71,93.0v-1.6M422.71,24.5v1.6M460.94,93.0v-1.6M460.94,24.5v1.6M499.17,93.0v-1.6M499.17,24.5v1.6M403.6,73.43h1.6M537.4,73.43h-1.6M403.6,53.86h1.6M537.4,53.86h-1.6M403.6,34.29h1.6M537.4,34.29h-1.6" stroke="#acacac" stroke-width="0.9" fill="none"/>
<text x="399.90" y="96.43" text-anchor="end" style="font-size:10.4px">0</text>
<text x="399.90" y="76.86" text-anchor="end" style="font-size:10.4px">6</text>
<text x="399.90" y="57.29" text-anchor="end" style="font-size:10.4px">12</text>
<text x="399.90" y="37.72" text-anchor="end" style="font-size:10.4px">18</text>
<text x="423.06" y="106.80" text-anchor="middle" style="font-size:10.4px">-4</text>
<text x="461.29" y="106.80" text-anchor="middle" style="font-size:10.4px">-2</text>
<text x="499.17" y="106.80" text-anchor="middle" style="font-size:10.4px">0</text>
<text x="537.40" y="106.80" text-anchor="middle" style="font-size:10.4px">2</text>
<text x="519.35" y="122.60" text-anchor="middle" style="font-size:8.23px">x</text><text x="529.21" y="122.60" text-anchor="middle" style="font-size:9.80px">10</text><text x="537.60" y="117.10" text-anchor="middle" style="font-size:7.06px">-4</text>
<g clip-path="url(#c3)"><polyline points="40.50,189.70 40.51,189.89 41.35,202.78 41.83,192.65 43.50,146.40 43.86,151.00 46.49,189.89 47.32,202.78 47.80,192.65 49.47,146.40 49.83,151.00 52.46,189.89 53.30,202.78 53.78,192.65 55.45,146.40 55.81,151.00 58.44,189.89 59.27,202.78 59.75,192.65 61.42,146.40 61.78,151.00 64.41,189.89 65.25,202.78 65.72,192.65 67.40,146.40 67.76,151.00 70.38,189.89 71.22,202.78 71.70,192.65 73.37,146.40 73.73,151.00 76.36,189.89 77.19,202.78 77.67,192.65 79.35,146.40 79.70,151.00 82.33,189.89 83.17,202.78 83.65,192.65 85.32,146.40 85.68,151.00 88.31,189.89 89.14,202.78 89.62,192.65 91.29,146.40 91.65,151.00 94.28,189.89 95.12,202.78 95.60,192.65 97.27,146.40 97.63,151.00 100.26,189.89 101.09,202.78 101.57,192.65 103.24,146.40 103.60,151.00 106.23,189.89 107.07,202.78 107.54,192.65 109.22,146.40 109.58,151.00 112.20,189.89 113.04,202.78 113.52,192.65 115.19,146.40 115.55,151.00 118.18,189.89 119.01,202.78 119.49,192.65 121.17,146.40 121.52,151.00 124.15,189.89 124.99,202.78 125.47,192.65 127.14,146.40 127.50,151.00 130.13,189.89 130.96,202.78 131.44,192.65 133.11,146.40 133.47,151.00 136.10,189.89 136.94,202.78 137.42,192.65 139.09,146.40 139.45,151.00 142.07,189.89 142.91,202.78 143.39,192.65 145.06,146.40 145.42,151.00 148.05,189.89 148.89,202.78 149.36,192.65 151.04,146.40 151.39,151.00 154.02,189.89 154.86,202.78 155.34,192.65 157.01,146.40 157.37,151.00 160.00,189.89 160.83,202.78 161.31,192.65 162.98,146.40 163.34,151.00 165.97,189.89 166.81,202.78 167.29,192.65 168.96,146.40 169.32,151.00 171.95,189.89 172.78,202.78 173.26,192.65 174.93,146.40 175.29,151.00 177.30,180.71" fill="none" stroke="#0072BD" stroke-width="1.25" stroke-linejoin="round" stroke-opacity="1.0"/></g>
<rect x="40.5" y="136.5" width="136.80" height="68.90" fill="none" stroke="#acacac" stroke-width="0.9"/>
<path d="M60.04,205.4v-1.6M60.04,136.5v1.6M99.13,205.4v-1.6M99.13,136.5v1.6M138.21,205.4v-1.6M138.21,136.5v1.6M40.5,194.58h1.6M177.3,194.58h-1.6M40.5,171.57h1.6M177.3,171.57h-1.6M40.5,148.56h1.6M177.3,148.56h-1.6" stroke="#acacac" stroke-width="0.9" fill="none"/>
<text x="39.60" y="198.28" text-anchor="end" style="font-size:10.0px">-0.05</text>
<text x="39.60" y="175.27" text-anchor="end" style="font-size:10.0px">0</text>
<text x="39.60" y="152.26" text-anchor="end" style="font-size:10.0px">0.05</text>
<text x="60.39" y="218.20" text-anchor="middle" style="font-size:10.0px">-4</text>
<text x="99.48" y="218.20" text-anchor="middle" style="font-size:10.0px">-2</text>
<text x="138.21" y="218.20" text-anchor="middle" style="font-size:10.0px">0</text>
<text x="177.30" y="218.20" text-anchor="middle" style="font-size:10.0px">2</text>
<text x="160.95" y="232.30" text-anchor="middle" style="font-size:7.56px">x</text><text x="169.83" y="232.30" text-anchor="middle" style="font-size:9.00px">10</text><text x="176.70" y="226.80" text-anchor="middle" style="font-size:6.48px">-4</text>
<g clip-path="url(#c4)"><polyline points="219.30,194.67 219.72,200.98 220.20,190.86 221.90,144.60 222.27,149.20 224.94,188.09 225.79,200.98 226.27,190.86 227.97,144.60 228.34,149.20 231.01,188.09 231.86,200.98 232.34,190.86 234.04,144.60 234.41,149.20 237.08,188.09 237.93,200.98 238.41,190.86 240.11,144.60 240.48,149.20 243.15,188.09 244.00,200.98 244.48,190.86 246.18,144.60 246.55,149.20 249.22,188.09 250.07,200.98 250.55,190.86 252.25,144.60 252.62,149.20 255.29,188.09 256.14,200.98 256.62,190.86 258.32,144.60 258.69,149.20 261.36,188.09 262.21,200.98 262.69,190.86 264.39,144.60 264.76,149.20 267.43,188.09 268.28,200.98 268.76,190.86 270.46,144.60 270.83,149.20 273.50,188.09 274.35,200.98 274.83,190.86 276.53,144.60 276.90,149.20 279.57,188.09 280.42,200.98 280.90,190.86 282.60,144.60 282.97,149.20 285.64,188.09 286.49,200.98 286.98,190.86 288.67,144.60 289.04,149.20 291.71,188.09 292.56,200.98 293.05,190.86 294.75,144.60 295.11,149.20 297.78,188.09 298.63,200.98 299.12,190.86 300.82,144.60 301.18,149.20 303.85,188.09 304.70,200.98 305.19,190.86 306.89,144.60 307.25,149.20 309.92,188.09 310.77,200.98 311.26,190.86 312.96,144.60 313.32,149.20 315.99,188.09 316.84,200.98 317.33,190.86 319.03,144.60 319.39,149.20 322.06,188.09 322.91,200.98 323.40,190.86 325.10,144.60 325.46,149.20 328.13,188.09 328.98,200.98 329.47,190.86 331.17,144.60 331.53,149.20 334.20,188.09 335.05,200.98 335.54,190.86 337.24,144.60 337.60,149.20 340.27,188.09 341.12,200.98 341.61,190.86 343.31,144.60 343.67,149.20 346.34,188.09 347.19,200.98 347.68,190.86 349.38,144.60 349.74,149.20 352.41,188.09 353.26,200.98 353.75,190.86 355.45,144.60 355.81,149.20 358.30,185.42" fill="none" stroke="#0072BD" stroke-width="1.25" stroke-linejoin="round" stroke-opacity="1.0"/></g>
<rect x="219.3" y="136.5" width="139.00" height="68.90" fill="none" stroke="#acacac" stroke-width="0.9"/>
<path d="M239.16,205.4v-1.6M239.16,136.5v1.6M278.87,205.4v-1.6M278.87,136.5v1.6M318.59,205.4v-1.6M318.59,136.5v1.6M219.3,194.58h1.6M358.3,194.58h-1.6M219.3,171.57h1.6M358.3,171.57h-1.6M219.3,148.56h1.6M358.3,148.56h-1.6" stroke="#acacac" stroke-width="0.9" fill="none"/>
<text x="217.40" y="198.02" text-anchor="end" style="font-size:10.4px">-0.05</text>
<text x="217.40" y="175.00" text-anchor="end" style="font-size:10.4px">0</text>
<text x="217.40" y="151.99" text-anchor="end" style="font-size:10.4px">0.05</text>
<text x="239.51" y="218.90" text-anchor="middle" style="font-size:10.4px">-4</text>
<text x="279.22" y="218.90" text-anchor="middle" style="font-size:10.4px">-2</text>
<text x="318.59" y="218.90" text-anchor="middle" style="font-size:10.4px">0</text>
<text x="358.30" y="218.90" text-anchor="middle" style="font-size:10.4px">2</text>
<text x="339.10" y="235.00" text-anchor="middle" style="font-size:8.23px">x</text><text x="349.40" y="235.00" text-anchor="middle" style="font-size:9.80px">10</text><text x="358.15" y="229.50" text-anchor="middle" style="font-size:7.06px">-4</text>
<g clip-path="url(#c5)"><polyline points="403.60,186.89 403.68,188.09 404.50,200.98 404.96,190.86 406.60,144.60 406.95,149.20 409.52,188.09 410.34,200.98 410.81,190.86 412.44,144.60 412.79,149.20 415.37,188.09 416.18,200.98 416.65,190.86 418.29,144.60 418.64,149.20 421.21,188.09 422.03,200.98 422.49,190.86 424.13,144.60 424.48,149.20 427.05,188.09 427.87,200.98 428.34,190.86 429.97,144.60 430.32,149.20 432.90,188.09 433.71,200.98 434.18,190.86 435.82,144.60 436.17,149.20 438.74,188.09 439.56,200.98 440.02,190.86 441.66,144.60 442.01,149.20 444.58,188.09 445.40,200.98 445.87,190.86 447.50,144.60 447.85,149.20 450.43,188.09 451.24,200.98 451.71,190.86 453.35,144.60 453.70,149.20 456.27,188.09 457.09,200.98 457.55,190.86 459.19,144.60 459.54,149.20 462.11,188.09 462.93,200.98 463.40,190.86 465.03,144.60 465.38,149.20 467.95,188.09 468.77,200.98 469.24,190.86 470.88,144.60 471.23,149.20 473.80,188.09 474.62,200.98 475.08,190.86 476.72,144.60 477.07,149.20 479.64,188.09 480.46,200.98 480.93,190.86 482.56,144.60 482.91,149.20 485.48,188.09 486.30,200.98 486.77,190.86 488.41,144.60 488.76,149.20 491.33,188.09 492.15,200.98 492.61,190.86 494.25,144.60 494.60,149.20 497.17,188.09 497.99,200.98 498.46,190.86 500.09,144.60 500.44,149.20 503.01,188.09 503.83,200.98 504.30,190.86 505.94,144.60 506.29,149.20 508.86,188.09 509.68,200.98 510.14,190.86 511.78,144.60 512.13,149.20 514.70,188.09 515.52,200.98 515.99,190.86 517.62,144.60 517.97,149.20 520.54,188.09 521.36,200.98 521.83,190.86 523.47,144.60 523.82,149.20 526.39,188.09 527.21,200.98 527.67,190.86 529.31,144.60 529.66,149.20 532.23,188.09 533.05,200.98 533.52,190.86 535.15,144.60 535.50,149.20 537.40,177.90" fill="none" stroke="#0072BD" stroke-width="1.25" stroke-linejoin="round" stroke-opacity="1.0"/></g>
<rect x="403.6" y="136.5" width="133.80" height="68.90" fill="none" stroke="#acacac" stroke-width="0.9"/>
<path d="M422.71,205.4v-1.6M422.71,136.5v1.6M460.94,205.4v-1.6M460.94,136.5v1.6M499.17,205.4v-1.6M499.17,136.5v1.6M403.6,194.58h1.6M537.4,194.58h-1.6M403.6,171.57h1.6M537.4,171.57h-1.6M403.6,148.56h1.6M537.4,148.56h-1.6" stroke="#acacac" stroke-width="0.9" fill="none"/>
<text x="401.30" y="198.02" text-anchor="end" style="font-size:10.4px">-0.05</text>
<text x="401.30" y="175.00" text-anchor="end" style="font-size:10.4px">0</text>
<text x="401.30" y="151.99" text-anchor="end" style="font-size:10.4px">0.05</text>
<text x="423.06" y="218.90" text-anchor="middle" style="font-size:10.4px">-4</text>
<text x="461.29" y="218.90" text-anchor="middle" style="font-size:10.4px">-2</text>
<text x="499.17" y="218.90" text-anchor="middle" style="font-size:10.4px">0</text>
<text x="537.40" y="218.90" text-anchor="middle" style="font-size:10.4px">2</text>
<text x="519.15" y="235.00" text-anchor="middle" style="font-size:8.23px">x</text><text x="528.80" y="235.00" text-anchor="middle" style="font-size:9.80px">10</text><text x="537.80" y="229.50" text-anchor="middle" style="font-size:7.06px">-4</text>
<text x="106.65" y="17.0" text-anchor="middle" class="ttl">(a)</text>
<text x="289.0" y="17.0" text-anchor="middle" class="ttl">(b)</text>
<text x="475.95" y="17.0" text-anchor="middle" class="ttl">(c)</text>
<text transform="translate(15.6,56.6) rotate(-90)" text-anchor="middle" style="font-size:11.4px">output, V</text>
<text transform="translate(193.3,56.1) rotate(-90)" text-anchor="middle" style="font-size:11.4px">output, V</text>
<text transform="translate(383.5,57.35) rotate(-90)" text-anchor="middle" style="font-size:11.3px">output, V</text>
<text transform="translate(17.6,168.8) rotate(-90)" text-anchor="middle" style="font-size:10.2px">acoustic signal</text>
<text transform="translate(193.7,170.9) rotate(-90)" text-anchor="middle" style="font-size:11.45px">acoustic signal</text>
<text transform="translate(378.4,171.2) rotate(-90)" text-anchor="middle" style="font-size:11.6px">acoustic signal</text>
<text x="98.0" y="229.8" style="font-size:10.3px">time, s</text>
<text x="276.4" y="232.2" style="font-size:11.3px">time, s</text>
<text x="458.7" y="232.1" style="font-size:11.3px">time, s</text>
<text x="406.40" y="21.10" text-anchor="middle" style="font-size:8.74px">x</text><text x="416.09" y="21.10" text-anchor="middle" style="font-size:10.40px">10</text><text x="425.10" y="15.60" text-anchor="middle" style="font-size:7.49px">-3</text>
</svg>
</body></html>
